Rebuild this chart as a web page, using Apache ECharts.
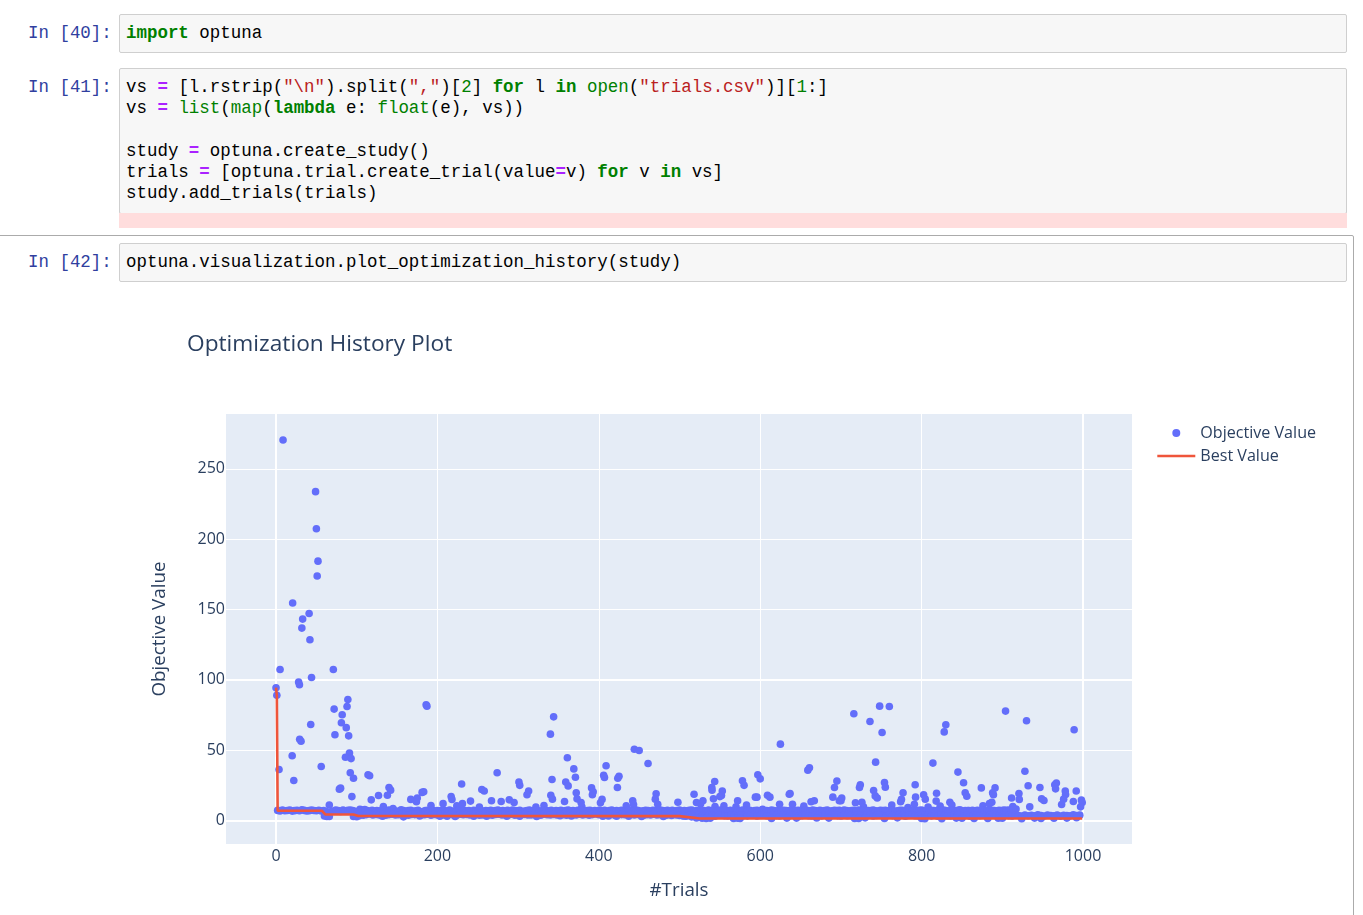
<!DOCTYPE html>
<html>
<head>
<meta charset="utf-8">
<title>Optimization History Plot</title>
<script src="https://cdn.jsdelivr.net/npm/echarts@6/dist/echarts.min.js"></script>
<style>
html, body { margin: 0; padding: 0; background: #fff; overflow: hidden; }
#main { position: absolute; left: 0; top: 0; width: 1363px; height: 915px; }
.cell { position: absolute; left: 119px; width: 1226px; background: #f7f7f7; border: 1px solid #cfcfcf; border-radius: 2px; }
.stderr { position: absolute; left: 119px; width: 1228px; top: 213px; height: 15px; background: #fdd; }
.selected { position: absolute; left: -2px; top: 235px; width: 1354px; height: 700px; border: 1px solid #ababab; border-radius: 2px; }
.prompt, .code { position: absolute; font-family: "Liberation Mono", monospace; font-size: 17.47px; line-height: 21px; white-space: pre; }
.prompt { left: 28px; color: #303f9f; }
.code { left: 126px; color: #000; }
.k { color: #008000; font-weight: bold; }
.b { color: #008000; }
.o { color: #aa22ff; font-weight: bold; }
.s { color: #ba2121; }
</style>
</head>
<body>
<div class="selected"></div>
<div class="cell" style="top:14px;height:37px"></div>
<div class="cell" style="top:68px;height:144px"></div>
<div class="stderr"></div>
<div class="cell" style="top:243px;height:37px"></div>

<div class="prompt" style="top:23px">In [40]:</div>
<div class="code" style="top:23px"><span class="k">import</span> optuna</div>

<div class="prompt" style="top:77px">In [41]:</div>
<div class="code" style="top:77px">vs <span class="o">=</span> [l.rstrip(<span class="s">"\n"</span>).split(<span class="s">","</span>)[<span class="b">2</span>] <span class="k">for</span> l <span class="k">in</span> <span class="b">open</span>(<span class="s">"trials.csv"</span>)][<span class="b">1</span>:]</div>
<div class="code" style="top:98px">vs <span class="o">=</span> <span class="b">list</span>(<span class="b">map</span>(<span class="k">lambda</span> e: <span class="b">float</span>(e), vs))</div>
<div class="code" style="top:141px">study <span class="o">=</span> optuna.create_study()</div>
<div class="code" style="top:162px">trials <span class="o">=</span> [optuna.trial.create_trial(value<span class="o">=</span>v) <span class="k">for</span> v <span class="k">in</span> vs]</div>
<div class="code" style="top:183px">study.add_trials(trials)</div>

<div class="prompt" style="top:252px">In [42]:</div>
<div class="code" style="top:252px">optuna.visualization.plot_optimization_history(study)</div>

<div id="main"></div>
<script>
var xTicks = [0, 200, 400, 600, 800, 1000];
var yTicks = [0, 50, 100, 150, 200, 250];

// points standing clear of the dense band
var scatterTrials = [8.7,49,50,52,51,20.6,41,33,32,42,5,71,44,28,29,0,1,89,88,186,187,72,82,81,87,43,73,90,29.3,31,20,91,86,93,56,3.7,92,114,116,96,22,
  78.5,80,140,142,138,127,118,94,167,175,174,181,183,230,274,217,218,207,192,224,231,241,252,255,258,267,279,289,295,301,302,313,311,322,133,145,66,104,
  344,340,444,450,461,625,361,369,409,371,406,407,425,423.5,423,342,359,362,340.5,342.5,357.5,372,373,391,393,392,404,402,378,379,442,443,434,471,470,473,498,332,518,521,529,526,
  543.6,540,540.3,553,552,550,542,544,555,572,570,578,580,583,597,600,594,596,609,612,603,624,636,637,640,654,659,661,663,667,690,692,695,698,
  716,748,760,736,751,743,830,828,814,904,930,989,845,928,700,701,724,723,718,726,728,740.5,742.5,745,754,755,777,775,774,763,792,792.5,791,783,802.5,804.5,808,818.5,818,823,835,837.5,
  852,854,856,847,858.6,874,876,891,888,889,884,887,911.5,920.6,921,913,932,934,946.6,948.7,951.6,965,967,966,978,978.4,976,973.5,991.6,988,998,999,997];
var scatterValues = [270.5,233.8,207.4,184.4,173.8,154.6,147.2,143.2,136.8,128.5,107.4,107.4,101.7,98.4,96.5,94.4,89,86,81,82.3,81.3,79.2,75.2,69.5,66,68.3,61,60.2,57.8,56.4,46,48,45,44,38.4,36.3,34,32.5,31.8,30,28.4,
  22.3,23,23.5,21.6,18,17.8,14.7,17,15,16,13.3,20,20.4,26,34,17,15,12,10.7,10.4,12,13.8,9.5,22,21,14,13.5,14.7,12.8,27.3,25,21,18.3,9.5,10,8.5,11,8,
  73.7,61.4,50.7,49.8,40.5,54.3,44.6,36.7,38.9,30.8,32.2,30.6,31.5,30,23.5,29.2,27.3,24.6,18,15.2,13.5,19.7,15.4,23.2,20.4,18.3,15,12.6,12.8,9.7,14,11.4,10.4,19,15.2,11.6,13,10.7,18.7,12.8,14,11.8,
  27.7,23.5,21.6,21,17.8,17,15.4,10,10.4,14,9.7,28.2,25,11,32.5,29.6,16.6,16.6,18,16.6,8,11.6,18.7,19.2,11.6,10.2,35.8,37.5,13.3,14,16.6,23.5,28,14,
  75.9,81.3,81,70.4,62.6,41.5,68,63,40.8,77.8,70.9,64.5,34.4,35,14,16,25.4,23.5,12.6,13,9.7,21.3,17.5,16,27,23.7,19.7,15,13.3,11,25.4,16.6,11.6,9.2,18.3,15.2,9.5,19.4,13.8,10.2,13,11,
  26.8,19.7,17.3,7.4,7,23.2,10.4,23.2,19.7,18.3,12,13,16,19.2,15,10,24.7,9.7,23.5,15.4,14.2,25.4,26.6,22.5,20.9,18.5,15.2,11.4,21,13.5,14.5,12.8,9.7];

// top of the dense band, one reading every three trials starting at trial 2
var bandValues = [7.2,6.8,7.4,6.9,7.1,7.5,6.7,7,7.3,6.9,7.6,7.2,6.8,7,7.4,7.1,6.9,7.3,6.8,7,
  6.4,5.6,6.2,6.8,7.5,7.1,6.4,7.4,6.9,7.2,7.5,7,6.6,
  6.1,6.9,7.4,7.8,7,6.5,7.2,6.8,7.1,6.6,7.3,7,6.7,7.5,6.9,7.2,6.4,6.8,7.6,7.1,6.6,7,7.3,6.5,6.9,7.2,
  5.8,6.4,7,7.3,6.8,7.5,6.6,7.1,6.9,7.2,7,6.5,7.4,6.8,6.2,7.1,7.6,6.9,7.3,6.7,7,6.4,7.2,6.8,7.5,7.1,6.6,7,6.9,
  7.3,6.7,7.1,7.4,6.5,7,6.8,7.2,6.6,7.5,7,6.9,7.3,6.4,6.8,7.1,7.5,6.7,7,7.2,6.6,6.9,7.4,7,6.8,7.2,6.5,7.1,6.9,7.3,6.7,7,
  7.4,6.8,7.1,6.6,7.2,6.9,7.5,6.7,7,7.3,6.5,7.1,6.8,7.4,6.9,7.2,6.6,7,7.5,6.8,7.1,6.7,7.3,6.9,6.5,7,7.2,6.8,7.4,7.1,6.6,6.9,7.3,7,6.7,7.2,
  7.1,6.8,7.4,7,6.9,7.2,6.5,7.3,6.8,7.1,7.5,6.7,7,6.9,7.2,7.4,6.6,7.1,6.8,7.3,7,6.7,7.5,6.9,7.2,6.8,7,7.4,6.6,7.1,6.9,7.3,6.7,7.2,7,6.8,7.5,7.1,
  6.9,7.3,6.6,7,7.2,6.8,7.4,6.7,7.1,6.9,7.5,7,6.6,7.2,6.8,7.3,7.1,6.9,7.4,6.7,7,7.2,6.5,6.8,7.3,7.1,6.9,7.5,7,6.7,7.2,6.8,7.1,7.4,6.6,6.9,7.3,7,
  7.2,6.8,7.5,7.1,6.7,7,7.3,6.9,7.4,6.6,7.2,6.8,7,7.1,7.5,6.9,6.7,7.3,7,7.2,6.8,7.4,7.1,6.6,6.9,7.2,7.3,6.8,7,7.5,6.7,7.1,6.9,7.2,7.4,6.8,7,6.6,
  7.3,7.1,6.9,7.2,6.8,7.5,7,6.7,7.1,7.3,6.9,7.2,7.4,6.8,7,7.1,6.6,7.3,6.9,7.2,7,7.4,7.1,6.8,7.5,7.2,7,6.9,7.3,7.1,7.4,7.2,7.5,7.3,7.8,8.2];

// underside of the dense band, one reading every four trials starting at trial 100
var bandLowValues = [4.1,4.4,3.8,4.2,4.6,3.9,4.3,4,4.5,3.7,4.2,4.4,3.9,4.1,4.6,4,3.8,4.3,4.2,4.5,3.9,4.1,4.4,3.7,4.3,4,4.6,3.9,4.2,4.4,
  4,3.8,4.5,4.1,4.3,3.9,4.2,4.6,3.8,4,4.4,4.1,3.7,4.3,4.5,3.9,4.2,4,4.4,3.8,4.1,4.6,4.3,3.9,4,4.2,4.5,3.8,4.4,4.1,
  3.9,4.3,4,4.6,4.2,3.7,4.4,4.1,3.9,4.5,4,4.3,3.8,4.2,4.6,4.1,3.9,4.4,4,4.3,3.8,4.5,4.2,4.1,3.9,4.6,4,4.3,4.4,3.7,4.2,4,4.5,3.9,4.1,4.3,3.8,4.4,4.2,4,
  3.6,3.4,3.1,3.5,3.8,3.2,4,3.6,3.3,3.9,3.5,3.1,3.7,4.1,3.4,3.2,3.8,3.6,3,3.9,3.5,3.3,4,3.7,3.2,3.6,3.9,3.4,3.1,3.8,
  3.5,3.2,4.1,3.6,3.3,3.9,3.7,3,3.5,4,3.4,3.2,3.8,3.6,3.3,3.9,3.1,3.7,4,3.5,3.2,3.8,3.4,3.6,3.1,3.9,3.5,3.3,4.1,3.7,
  3.2,3.6,3.9,3.4,3,3.8,3.5,3.3,4,3.7,3.1,3.6,3.9,3.4,3.2,3.8,3.5,4.1,3.3,3.7,3.1,3.9,3.6,3.4,3.2,3.8,3.5,4,3.3,3.7,
  3.1,3.6,3.9,3.4,3.8,3.2,3.5,4,3.6,3.3,3.7,3.9,3.5,3.2,3.8,3.6,3.1,3.9,3.4,3.7,3.3,4,3.5,3.2,3.8,3.6,3.4,3.9,3.1,3.7,3.5,3.3,4.1,3.6,3.8];

// dips that poke out below the best value line
var lowTrials = [60,63,66,96,100,103,132,158,178,203,212,222,245,261,286,302,323,352,366,405,412,422,437,453,480,490,505,
  515,521,528,533,538,567,572,575,614,633,645,670,685,717,722,730,754,770,800,804,825,843,850,865,882,895,900,924,940,948,964,980,992];
var lowValues = [3.2,2.8,2.9,2.9,2.7,3.4,3.1,2.6,3.2,3,3.1,2.9,3,3,3,3.1,2.8,3.4,3.2,3.1,3.2,3,3,2.9,2.9,3.6,3.2,
  2.6,1.8,1.6,1.5,1.6,1.5,1.6,1.5,1.4,1.7,1.7,1.8,1.7,1.5,1.5,1.9,1.5,1.9,1.4,1.3,1.3,1.7,1.6,1.4,1.5,1.6,1.6,1.3,1.7,1.5,1.6,1.7,2];

var bestTrials = [0, 1, 2, 57, 61, 96, 102, 500, 525, 999];
var bestValues = [94.4, 89, 6.9, 6.9, 4.3, 4.3, 3.2, 3.1, 1.4, 1.4];

var objectiveData = [];
scatterTrials.forEach(function (t, i) { objectiveData.push([t, scatterValues[i]]); });
bandValues.forEach(function (v, i) { objectiveData.push([2 + i * 3, v]); });
bandLowValues.forEach(function (v, i) { objectiveData.push([100 + i * 4, v]); });
lowTrials.forEach(function (t, i) { objectiveData.push([t, lowValues[i]]); });

var bestData = bestTrials.map(function (t, i) { return [t, bestValues[i]]; });

var chart = echarts.init(document.getElementById('main'));
chart.setOption({
  animation: false,
  textStyle: { fontFamily: '"Open Sans", sans-serif' },
  title: {
    text: 'Optimization History Plot',
    left: 187, top: 333,
    padding: 0,
    textStyle: { fontFamily: '"Open Sans", sans-serif', fontSize: 22.7, fontWeight: 'normal', color: '#2a3f5f' }
  },
  legend: {
    orient: 'vertical',
    left: 1156, top: 425,
    padding: 0,
    itemWidth: 38, itemHeight: 8, itemGap: 7,
    textStyle: { color: '#2a3f5f', fontSize: 16.1 },
    data: [{ name: 'Objective Value' }, { name: 'Best Value', itemStyle: { opacity: 0 }, lineStyle: { width: 2.6 } }]
  },
  grid: { left: 226, top: 414, width: 906, height: 430, show: true, backgroundColor: '#E5ECF6', borderWidth: 0 },
  xAxis: {
    type: 'value',
    min: -62, max: 1060.7,
    name: '#Trials',
    nameLocation: 'middle',
    nameGap: 37,
    nameTextStyle: { color: '#2a3f5f', fontSize: 18.8 },
    axisLine: { show: false },
    axisTick: { show: false, customValues: xTicks },
    axisLabel: { color: '#2a3f5f', fontSize: 16, margin: 4, customValues: xTicks, formatter: function (v) { return String(v); } },
    splitLine: { lineStyle: { color: '#fff', width: 1 } }
  },
  yAxis: {
    type: 'value',
    min: -16.7, max: 289,
    name: 'Objective Value',
    nameLocation: 'middle',
    nameGap: 57,
    nameTextStyle: { color: '#2a3f5f', fontSize: 18.8 },
    axisLine: { show: false },
    axisTick: { show: false, customValues: yTicks },
    axisLabel: { color: '#2a3f5f', fontSize: 16, margin: 1, padding: [2, 0, 0, 0], customValues: yTicks },
    splitLine: { lineStyle: { color: '#fff', width: 1 } }
  },
  series: [
    {
      name: 'Objective Value',
      type: 'scatter',
      z: 3,
      symbolSize: 7.6,
      itemStyle: { color: '#636EFA', opacity: 1 },
      data: objectiveData,
      markLine: {
        z: 1,
        silent: true,
        symbol: 'none',
        label: { show: false },
        lineStyle: { color: '#fff', type: 'solid', width: 2 },
        data: [{ yAxis: 0 }, { yAxis: 100 }, { xAxis: 0 }, { xAxis: 1000 }]
      }
    },
    {
      name: 'Best Value',
      type: 'line',
      z: 4,
      showSymbol: false,
      symbol: 'none',
      lineStyle: { color: '#EF553B', width: 2.6 },
      itemStyle: { color: '#EF553B' },
      data: bestData
    }
  ]
});
</script>
</body>
</html>
